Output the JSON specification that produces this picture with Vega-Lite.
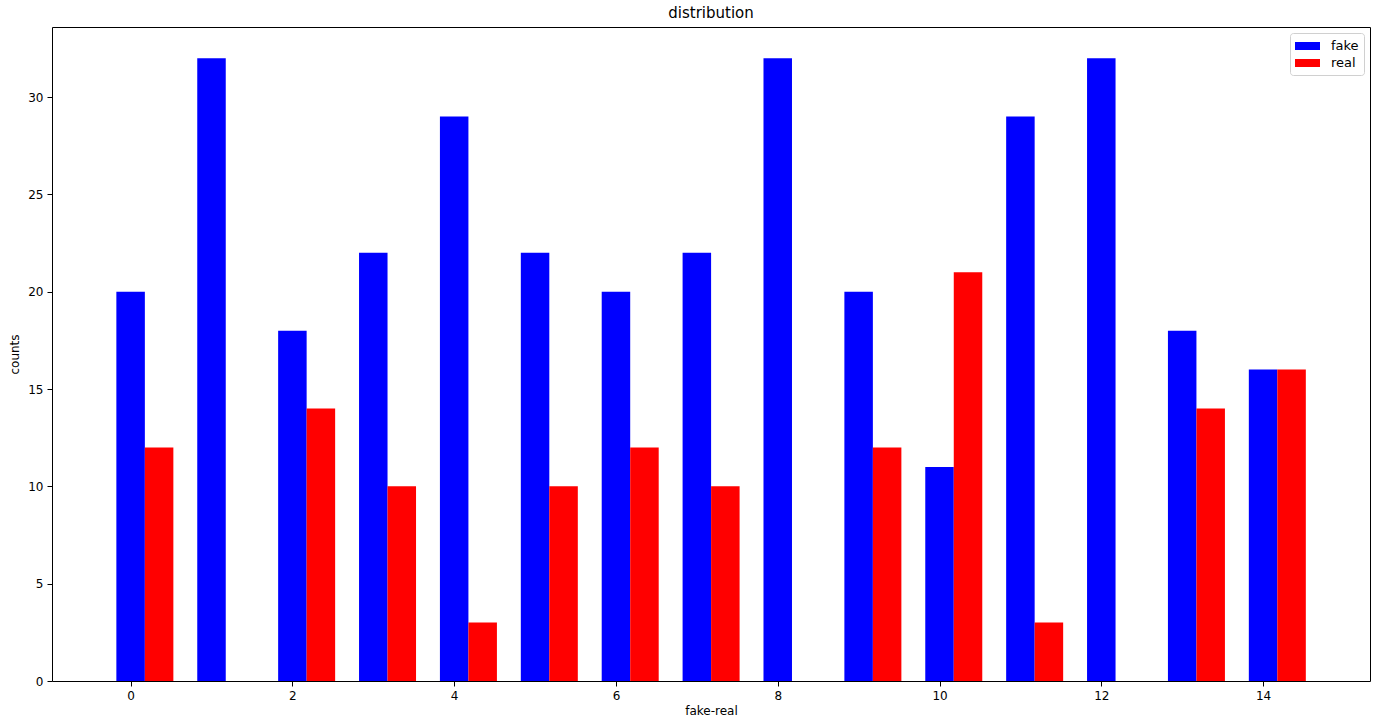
{
  "$schema": "https://vega.github.io/schema/vega-lite/v6.json",
  "autosize": {"type": "none"},
  "width": 1318,
  "height": 654,
  "padding": {"left": 52, "top": 27, "right": 10, "bottom": 47},
  "background": "white",
  "title": {"text": "distribution", "fontSize": 15, "fontWeight": "normal", "font": "DejaVu Sans", "offset": 6, "color": "black"},
  "config": {
    "view": {"stroke": "black", "strokeWidth": 1},
    "axis": {"labelFont": "DejaVu Sans", "titleFont": "DejaVu Sans", "labelFontSize": 12, "titleFontSize": 12, "titleFontWeight": "normal", "labelColor": "black", "titleColor": "black", "tickColor": "black", "domain": false, "grid": false, "tickSize": 5}
  },
  "data": {
    "values": [
      {"value": 0, "type": "fake", "counts": 20}, {"value": 0, "type": "real", "counts": 12},
      {"value": 1, "type": "fake", "counts": 32}, {"value": 1, "type": "real", "counts": 0},
      {"value": 2, "type": "fake", "counts": 18}, {"value": 2, "type": "real", "counts": 14},
      {"value": 3, "type": "fake", "counts": 22}, {"value": 3, "type": "real", "counts": 10},
      {"value": 4, "type": "fake", "counts": 29}, {"value": 4, "type": "real", "counts": 3},
      {"value": 5, "type": "fake", "counts": 22}, {"value": 5, "type": "real", "counts": 10},
      {"value": 6, "type": "fake", "counts": 20}, {"value": 6, "type": "real", "counts": 12},
      {"value": 7, "type": "fake", "counts": 22}, {"value": 7, "type": "real", "counts": 10},
      {"value": 8, "type": "fake", "counts": 32}, {"value": 8, "type": "real", "counts": 0},
      {"value": 9, "type": "fake", "counts": 20}, {"value": 9, "type": "real", "counts": 12},
      {"value": 10, "type": "fake", "counts": 11}, {"value": 10, "type": "real", "counts": 21},
      {"value": 11, "type": "fake", "counts": 29}, {"value": 11, "type": "real", "counts": 3},
      {"value": 12, "type": "fake", "counts": 32}, {"value": 12, "type": "real", "counts": 0},
      {"value": 13, "type": "fake", "counts": 18}, {"value": 13, "type": "real", "counts": 14},
      {"value": 14, "type": "fake", "counts": 16}, {"value": 14, "type": "real", "counts": 16}
    ]
  },
  "encoding": {
    "x": {
      "field": "value", "type": "quantitative", "title": "fake-real",
      "scale": {"domain": [-0.91, 15.26], "nice": false, "zero": false},
      "axis": {"values": [0, 2, 4, 6, 8, 10, 12, 14], "titlePadding": 4, "labelPadding": 4}
    },
    "y": {
      "field": "counts", "type": "quantitative", "title": "counts",
      "scale": {"domain": [0, 33.6], "nice": false},
      "axis": {"values": [0, 5, 10, 15, 20, 25, 30], "titlePadding": 6, "labelPadding": 4}
    },
    "color": {
      "field": "type", "type": "nominal", "title": null,
      "scale": {"domain": ["fake", "real"], "range": ["blue", "red"]},
      "legend": {
        "orient": "top-right", "offset": 6,
        "symbolType": "M-1,-0.5H2.125V0.5H-1Z", "symbolSize": 256, "symbolStrokeWidth": 0,
        "labelFont": "DejaVu Sans", "labelFontSize": 13, "labelColor": "black",
        "strokeColor": "#d0d0d0", "fillColor": "white", "cornerRadius": 3,
        "padding": 5, "rowPadding": 2, "labelOffset": 20
      }
    }
  },
  "layer": [
    {
      "transform": [{"filter": "datum.type === 'fake'"}],
      "mark": {"type": "bar", "width": 28.5, "opacity": 1}
    },
    {
      "transform": [{"filter": "datum.type === 'real'"}],
      "mark": {"type": "bar", "width": 28.5, "xOffset": 28.5, "opacity": 1}
    }
  ]
}
